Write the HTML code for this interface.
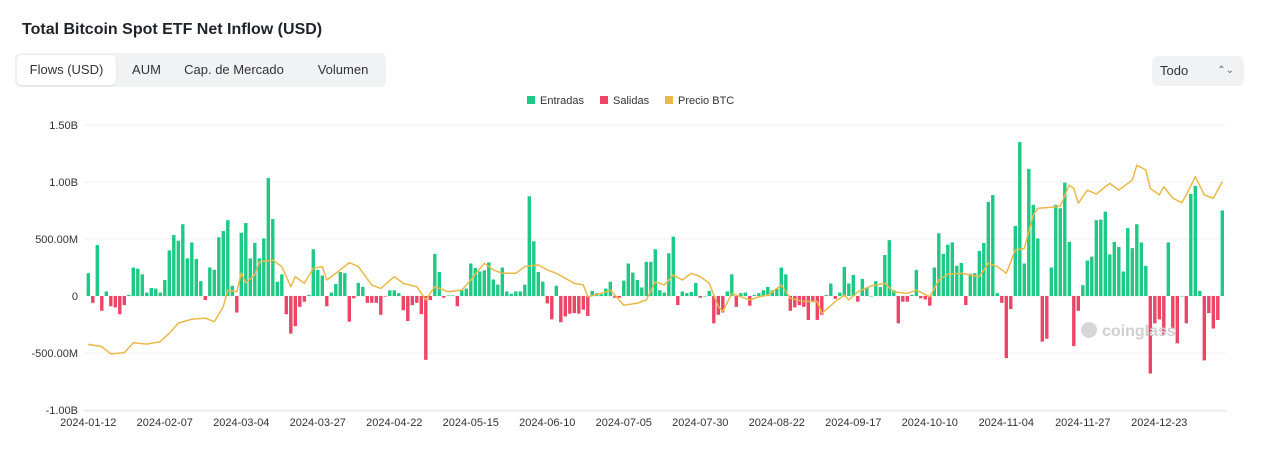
<!DOCTYPE html>
<html><head><meta charset="utf-8">
<style>
body{margin:0;width:1280px;height:464px;background:#fff;font-family:"Liberation Sans",sans-serif;overflow:hidden;position:relative}
.title{position:absolute;left:22px;top:21px;font-size:16px;font-weight:bold;color:#1f2329}
.tabs{position:absolute;left:15px;top:53px;width:371px;height:34px;background:#f1f2f4;border-radius:6px}
.tab{position:absolute;top:2px;height:30px;line-height:30px;font-size:13px;color:#333;text-align:center}
.tab.active{background:#fff;border-radius:5px;box-shadow:0 1px 2px rgba(0,0,0,.08)}
.dd{position:absolute;left:1152px;top:56px;width:92px;height:30px;background:#f1f2f4;border-radius:6px;font-size:13px;line-height:30px;color:#333}
</style></head><body>
<div class="title">Total Bitcoin Spot ETF Net Inflow (USD)</div>
<div class="tabs">
<div class="tab active" style="left:2px;width:99px">Flows (USD)</div>
<div class="tab" style="left:104px;width:55px">AUM</div>
<div class="tab" style="left:162px;width:114px">Cap. de Mercado</div>
<div class="tab" style="left:285px;width:86px">Volumen</div>
</div>
<div class="dd"><span style="margin-left:8px">Todo</span><span style="position:absolute;right:10px;top:0;font-size:10px;color:#666">⌃⌄</span></div>
<svg id="chart" width="1280" height="464" style="position:absolute;left:0;top:0"></svg>
<script>
const flows=[200,-60,447,-130,40,-90,-100,-160,-80,10,250,240,190,30,70,65,30,140,400,535,485,630,330,470,325,130,-35,250,230,515,570,665,90,-145,555,640,330,465,330,505,1035,675,125,
190,-160,-330,-265,-95,-50,10,410,230,180,-90,30,105,210,200,-225,-20,115,80,-60,-60,-60,-165,-5,50,50,25,-125,-220,-80,-60,-160,-560,-35,370,210,-15,5,5,-90,50,65,285,
245,215,225,295,145,100,250,40,20,40,40,100,875,480,210,125,-65,-205,90,-230,-180,-155,-150,-155,-120,-175,45,25,15,65,125,-15,-15,135,285,205,140,75,300,300,410,50,
30,375,520,-80,40,25,35,115,-15,0,45,-240,-165,-145,40,190,-95,25,30,-85,10,25,50,80,50,65,250,190,-130,-100,-80,-95,-210,-50,-210,-165,10,110,-25,30,255,110,
185,-50,150,75,0,130,80,360,490,50,-240,-50,-50,10,230,-20,-30,-85,250,550,370,450,470,265,290,-80,195,200,395,465,825,885,25,-60,-545,-115,615,1350,285,1115,800,505,
-400,-375,250,800,770,995,475,-440,-130,95,310,345,665,670,740,365,475,430,215,595,420,630,470,265,-680,-240,-205,-340,470,-285,-415,0,-240,895,965,45,-565,-150,-285,-210,750];
const priceIdx=[0,3,5,8,10,13,16,18,20,23,26,28,30,31,33,34,35,37,38,41,43,45,46,48,50,52,53,55,58,60,63,65,68,70,73,75,77,80,83,85,88,90,92,95,97,100,102,104,106,108,110,111,114,116,119,122,124,126,128,130,132,134,136,138,140,141,143,145,147,149,151,154,156,159,162,163,166,168,169,171,174,177,179,182,184,187,189,191,194,196,198,200,202,204,206,208,210,211,214,216,218,219,220,222,224,226,227,229,232,233,235,236,238,239,241,243,244,246,248,250,252];
const priceVal=[42,41.2,38.6,39,42.6,42.1,43,46,49.6,51,51.4,50.1,55.5,61.4,60.8,67.5,64,66.8,71.5,72.1,69.8,62.6,66.2,63.8,69.2,69.8,65,67.4,71.2,69.8,63.2,62,66.2,63.8,62.6,57.9,62.6,60.8,61.4,65,71,68.6,67.4,67.4,69.8,70.4,68.6,67.4,65.6,63.8,63.2,59,60.2,61.4,56,56.7,57.9,64.4,63.2,66.8,65,67.4,66.2,63.8,55.5,53.7,60.2,59,57.9,59,59.6,63.2,58.5,57.3,57.3,53.1,57.3,59.6,57.9,60.8,62.9,63.8,60.8,60.2,61.4,59,65,67.1,67.4,66.8,66.2,71,69.8,67.4,75.7,76.3,88.2,90.6,91,91.4,98.9,97.7,92.4,97.1,95.7,98.3,99.5,97.1,100.7,106,104.3,97.7,95.4,98.3,94.2,92.6,95.4,101.9,95.4,94.2,100.1];
const yTicks=[1500,1000,500,0,-500,-1000];
const yTickLabels=["1.50B","1.00B","500.00M","0","-500.00M","-1.00B"];
const xTickIdx=[0,17,34,51,68,85,102,119,136,153,170,187,204,221,238];
const xTickLabels=["2024-01-12","2024-02-07","2024-03-04","2024-03-27","2024-04-22","2024-05-15","2024-06-10","2024-07-05","2024-07-30","2024-08-22","2024-09-17","2024-10-10","2024-11-04","2024-11-27","2024-12-23"];
const NS="http://www.w3.org/2000/svg";
const svg=document.getElementById('chart');
const X0=88.3,DX=4.5,ZERO=296,PPM=57/500;
const x=i=>X0+i*DX;
const y=v=>ZERO-v*PPM;
const py=p=>462-p*2.8;
function mk(t,a){const e=document.createElementNS(NS,t);for(const k in a)e.setAttribute(k,a[k]);svg.appendChild(e);return e;}
yTicks.forEach((v,i)=>{
 const g=mk('line',{x1:84,x2:1226,y1:y(v),y2:y(v),stroke:'#f0f0f0','stroke-width':1});
 
 
 const t=mk('text',{x:78,y:y(v)+4,'text-anchor':'end','font-size':11,fill:'#333'});
 t.textContent=yTickLabels[i];
 
 
});
xTickIdx.forEach((idx,i)=>{
 const t=mk('text',{x:x(idx),y:426,'text-anchor':'middle','font-size':11,fill:'#333'});
 t.textContent=xTickLabels[i];
 
 
});
mk('line',{x1:84,x2:1226,y1:411,y2:411,stroke:'#e6e6e6'});
flows.forEach((v,i)=>{
 const r=mk('rect',{x:x(i)-1.7,width:3.4,y:Math.min(y(v),ZERO),height:Math.max(Math.abs(v)*PPM,0.5),fill:v>=0?'#1ec985':'#ee4466'});
 
 
});
const wm=mk('text',{x:1102,y:336,'font-size':16,'font-weight':'bold',fill:'#cfcfcf'});
wm.textContent='coinglass';


mk('circle',{cx:1089,cy:330,r:8,fill:'#d6d6d6'});
const line=mk('polyline',{points:priceIdx.map((d,i)=>x(d)+','+py(priceVal[i])).join(' '),fill:'none',stroke:'#e9b949','stroke-width':1.5,'stroke-linejoin':'round'});


const leg=[['Entradas','#1ec985',527],['Salidas','#ee4466',600],['Precio BTC','#e9b949',665]];
leg.forEach(l=>{
 const r=mk('rect',{x:l[2],y:96,width:8,height:8,fill:l[1]});
 
 
 const t=mk('text',{x:l[2]+13,y:104,'font-size':11,fill:'#333'});
 t.textContent=l[0];
 
 
});
</script>
</body></html>
